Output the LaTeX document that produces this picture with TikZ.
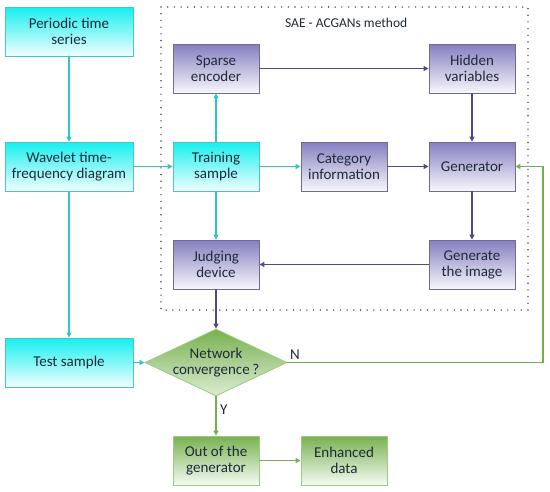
\documentclass[tikz,border=0pt]{standalone}
\usepackage{fontspec}
\setmainfont{Carlito}
\usepackage{tikz}
\usetikzlibrary{positioning, arrows.meta, shapes.geometric}

\definecolor{txtc}{HTML}{1F2A3A}
\definecolor{cyanfill}{HTML}{17EFEF}
\definecolor{cyanborder}{HTML}{4CC4C4}
\definecolor{cyanline}{HTML}{2EC7C7}
\definecolor{purplefill}{HTML}{857FC0}
\definecolor{purpleborder}{HTML}{6E6A9A}
\definecolor{purpleline}{HTML}{4E4A86}
\definecolor{greenfill}{HTML}{77B150}
\definecolor{greenborder}{HTML}{9DCB7D}
\definecolor{greenline}{HTML}{73AE4F}

\begin{document}
\begin{tikzpicture}[x=1pt,y=-1pt,->,>={Triangle[length=5pt,width=5pt]},
        node distance=98pt and 128pt,on grid,line width=1.5pt,
        font=\fontsize{15}{16}\selectfont,
        base box/.style={rectangle,draw,line width=0.8pt,align=center,minimum width=86pt,
            minimum height=49pt,inner sep=0pt,text=txtc},
        cyan box/.style={base box,draw=cyanborder,top color=cyanfill,middle color=cyanfill,bottom color=cyanfill!6},
        wide box/.style={cyan box,minimum width=128pt},
        purple box/.style={base box,draw=purpleborder,top color=purplefill,middle color=purplefill,bottom color=purplefill!6},
        green box/.style={base box,draw=greenborder,top color=greenfill,middle color=greenfill,bottom color=greenfill!6},
        decision/.style={diamond,draw=greenborder,line width=0.8pt,minimum width=142pt,minimum height=67pt,
            inner sep=0pt,top color=greenfill,middle color=greenfill!70,bottom color=greenfill!25},
        cyan line/.style={draw=cyanline},
        purple line/.style={draw=purpleline},
        green line/.style={draw=greenline}]
        \useasboundingbox (0,0) rectangle (550,491);

        % SAE - ACGANs frame
        \draw[-,line width=1.6pt,gray!60!black,dash pattern=on 0pt off 6.7pt,line cap=round]
            (161,7) rectangle (528,310);
        \node[anchor=west,text=txtc,font=\fontsize{13.5}{16}\selectfont] (title) at (281,23) {SAE - ACGANs method};

        \node[cyan box] (train) at (216,166.5) {Training\\sample};
        \node[purple box] (sparse) [above=of train] {Sparse\\encoder};
        \node[wide box] (wavelet) [left=147pt of train] {Wavelet time-\\frequency diagram};
        \node[wide box] (periodic) [above=135pt of wavelet] {Periodic time\\series};
        \node[purple box] (category) [right=of train] {Category\\information};
        \node[purple box] (generator) [right=of category] {Generator};
        \node[purple box] (hidden) [above=of generator] {Hidden\\variables};
        \node[purple box] (image) [below=of generator] {Generate\\the image};
        \node[purple box] (judge) [below=of train] {Judging\\device};
        \node[decision] (conv) [below=of judge] {};
        \node[text=txtc,align=center] at (conv.center) {Network\\convergence\,?};
        \node[wide box] (test) [left=147pt of conv] {Test sample};
        \node[green box] (out) [below=of conv] {Out of the\\generator};
        \node[green box] (enhanced) [right=of out] {Enhanced\\data};
        \coordinate (back) at (543,166.5);

        \path
        (periodic) edge[cyan line] (wavelet)
        (wavelet) edge[cyan line] (train)
        (wavelet) edge[cyan line] (test)
        (train) edge[cyan line] (sparse)
        (train) edge[cyan line] (category)
        (train) edge[cyan line] (judge)
        (test) edge[cyan line] (conv)
        (sparse) edge[purple line] (hidden)
        (hidden) edge[purple line] (generator)
        (category) edge[purple line] (generator)
        (generator) edge[purple line] (image)
        (image) edge[purple line] (judge)
        (judge) edge[purple line] (conv)
        (conv) edge[green line] node[right,pos=0.33,text=txtc] {Y} (out)
        (out) edge[green line] (enhanced);

        \draw[green line] (conv.east) node[anchor=south west,text=txtc,inner sep=2pt] {N} -| (back) -- (generator.east);
    \end{tikzpicture}
\end{document}
